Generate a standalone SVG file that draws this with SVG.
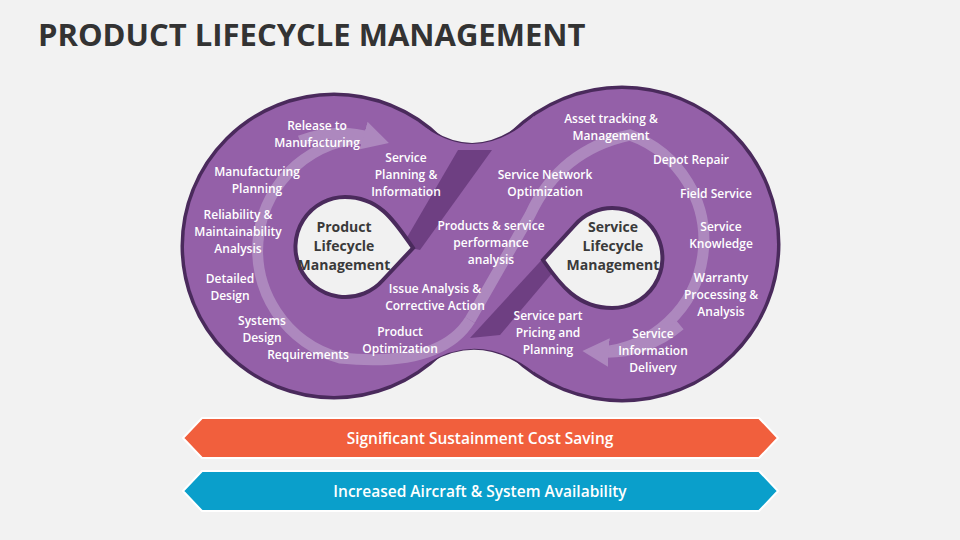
<svg xmlns="http://www.w3.org/2000/svg" width="960" height="540" viewBox="0 0 960 540">
<defs>
<style>
.t{font-family:"Open Sans","Liberation Sans",sans-serif;font-size:12px;fill:#fff;text-anchor:middle;font-weight:600}
.c{font-family:"Open Sans","Liberation Sans",sans-serif;font-size:14px;fill:#3a3a3a;text-anchor:middle;font-weight:700}
.b{font-family:"Open Sans","Liberation Sans",sans-serif;font-size:15.5px;fill:#fff;text-anchor:middle;font-weight:600}
.ol{fill:none;stroke:#4a2a5c;stroke-width:7;stroke-linejoin:round}
.fl{fill:#9460a8}
.hole{fill:#f1f1f1;stroke:#4a2a5c;stroke-width:4}
.arc{fill:none;stroke:#ad88be;stroke-width:11}
</style>
<marker id="ah" markerWidth="2.4" markerHeight="2.6" refX="0.8" refY="1.3" orient="auto"><path d="M0,0 L2.4,1.3 L0,2.6 Z" fill="#ad88be"/></marker>
</defs>
<rect width="960" height="540" fill="#f2f2f2"/>
<text x="38" y="46" font-family="'Open Sans','Liberation Sans',sans-serif" font-weight="700" font-size="31" fill="#333">PRODUCT LIFECYCLE MANAGEMENT</text>
<g id="infinity">
<circle class="ol" cx="334" cy="246" r="150"/>
<circle class="ol" cx="622" cy="244" r="155"/>
<path class="ol" d="M430,133 Q480,165 530,121 L530,367 Q480,330 430,359 Z"/>
<circle class="fl" cx="334" cy="246" r="150"/>
<circle class="fl" cx="622" cy="244" r="155"/>
<path class="fl" d="M426,128 Q480,165 534,116 L534,372 Q480,330 426,364 Z"/>
<path d="M458,150 L492,150 L420,250 L402,246 Z" fill="#6e3f82"/>
<path d="M560,240 L565,258 L500,335 L470,338 Z" fill="#6e3f82"/>
<path class="arc" d="M470,320 Q440,368 340,358 A112,112 0 0 1 370,138"/>
<path class="arc" d="M300,141 A112,112 0 0 1 372,138" marker-end="url(#ah)"/>
<path class="arc" d="M470,320 L530,215 Q560,150 630,135 A112,112 0 0 1 600,352"/>
<path class="arc" d="M680,325 A112,112 0 0 1 600,352" marker-end="url(#ah)"/>
<path class="hole" d="M413,248 C395,222 380,197 345,197 A50,50 0 1 0 383,280 Z"/>
<path class="hole" d="M543,260 C560,285 578,308 612,308 A50,50 0 1 0 574,226 Z"/>
</g>
<g id="labels">
<text class="c" x="344" y="232">Product</text><text class="c" x="344" y="251">Lifecycle</text><text class="c" x="344" y="270">Management</text>
<text class="c" x="613" y="232">Service</text><text class="c" x="613" y="251">Lifecycle</text><text class="c" x="613" y="270">Management</text>
<text class="t" x="317" y="130">Release to</text><text class="t" x="317" y="147">Manufacturing</text>
<text class="t" x="406" y="162">Service</text><text class="t" x="406" y="179">Planning &amp;</text><text class="t" x="406" y="196">Information</text>
<text class="t" x="257" y="176">Manufacturing</text><text class="t" x="257" y="193">Planning</text>
<text class="t" x="238" y="219">Reliability &amp;</text><text class="t" x="238" y="236">Maintainability</text><text class="t" x="238" y="253">Analysis</text>
<text class="t" x="230" y="283">Detailed</text><text class="t" x="230" y="300">Design</text>
<text class="t" x="262" y="325">Systems</text><text class="t" x="262" y="342">Design</text>
<text class="t" x="308" y="359">Requirements</text>
<text class="t" x="400" y="336">Product</text><text class="t" x="400" y="353">Optimization</text>
<text class="t" x="435" y="293">Issue Analysis &amp;</text><text class="t" x="435" y="310">Corrective Action</text>
<text class="t" x="491" y="230">Products &amp; service</text><text class="t" x="491" y="247">performance</text><text class="t" x="491" y="264">analysis</text>
<text class="t" x="545" y="179">Service Network</text><text class="t" x="545" y="196">Optimization</text>
<text class="t" x="611" y="123">Asset tracking &amp;</text><text class="t" x="611" y="140">Management</text>
<text class="t" x="691" y="164">Depot Repair</text>
<text class="t" x="716" y="198">Field Service</text>
<text class="t" x="721" y="231">Service</text><text class="t" x="721" y="248">Knowledge</text>
<text class="t" x="721" y="282">Warranty</text><text class="t" x="721" y="299">Processing &amp;</text><text class="t" x="721" y="316">Analysis</text>
<text class="t" x="653" y="338">Service</text><text class="t" x="653" y="355">Information</text><text class="t" x="653" y="372">Delivery</text>
<text class="t" x="548" y="320">Service part</text><text class="t" x="548" y="337">Pricing and</text><text class="t" x="548" y="354">Planning</text>
</g>
<g id="arrow1">
<path d="M183,438 L202,418 L759,418 L778,438 L759,458 L202,458 Z" fill="#f15f3d" stroke="#fff" stroke-width="2"/>
<text class="b" x="480" y="444">Significant Sustainment Cost Saving</text>
</g>
<g id="arrow2">
<path d="M183,491 L202,471 L759,471 L778,491 L759,511 L202,511 Z" fill="#0a9fcb" stroke="#fff" stroke-width="2"/>
<text class="b" x="480" y="497">Increased Aircraft &amp; System Availability</text>
</g>
</svg>
